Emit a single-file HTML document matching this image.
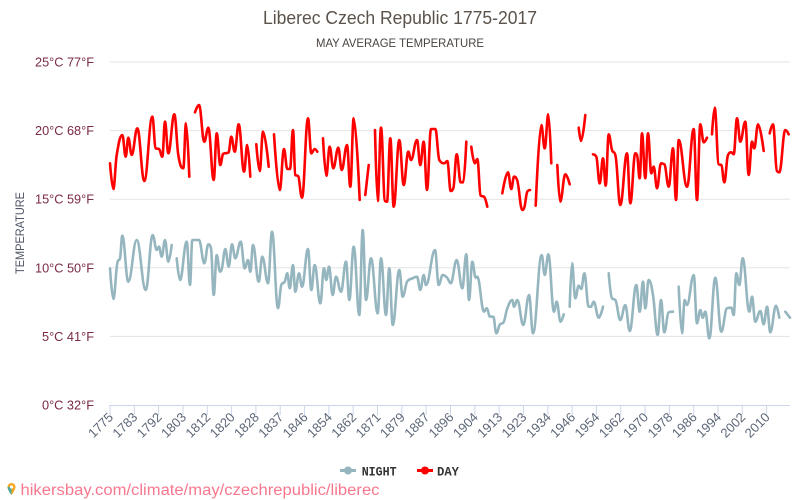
<!DOCTYPE html>
<html><head><meta charset="utf-8"><style>
html,body{margin:0;padding:0;background:#fff;}
svg{display:block;font-family:"Liberation Sans",sans-serif;}
</style></head><body>
<svg id="chart" width="800" height="500" viewBox="0 0 800 500" xmlns="http://www.w3.org/2000/svg">
<rect width="800" height="500" fill="#fff"/>
<text x="400" y="24" text-anchor="middle" font-size="18" fill="#5b534b" textLength="274" lengthAdjust="spacingAndGlyphs">Liberec Czech Republic 1775-2017</text>
<text x="400" y="47" text-anchor="middle" font-size="12" fill="#4a4440" textLength="168" lengthAdjust="spacingAndGlyphs">MAY AVERAGE TEMPERATURE</text>
<g stroke="#e3e3e3" stroke-width="1">
<line x1="110" y1="62" x2="790" y2="62"/>
<line x1="110" y1="130.6" x2="790" y2="130.6"/>
<line x1="110" y1="199.2" x2="790" y2="199.2"/>
<line x1="110" y1="267.8" x2="790" y2="267.8"/>
<line x1="110" y1="336.4" x2="790" y2="336.4"/>
</g>
<line x1="109" y1="405.5" x2="790" y2="405.5" stroke="#ccd6eb" stroke-width="1"/>
<g font-size="13" fill="#7a2a43" text-anchor="end">
<text x="94" y="66.5" textLength="59" lengthAdjust="spacingAndGlyphs">25°C 77°F</text>
<text x="94" y="135" textLength="59" lengthAdjust="spacingAndGlyphs">20°C 68°F</text>
<text x="94" y="203.7" textLength="59" lengthAdjust="spacingAndGlyphs">15°C 59°F</text>
<text x="94" y="272.3" textLength="59" lengthAdjust="spacingAndGlyphs">10°C 50°F</text>
<text x="94" y="340.9" textLength="52" lengthAdjust="spacingAndGlyphs">5°C 41°F</text>
<text x="94" y="409.5" textLength="52" lengthAdjust="spacingAndGlyphs">0°C 32°F</text>
</g>
<text transform="translate(24,233) rotate(-90)" text-anchor="middle" font-size="11.5" fill="#4e5666" textLength="82" lengthAdjust="spacingAndGlyphs">TEMPERATURE</text>
<g stroke="#ccd6eb" stroke-width="1">
<line x1="110" y1="405" x2="110" y2="415"/><line x1="134.3" y1="405" x2="134.3" y2="415"/><line x1="158.6" y1="405" x2="158.6" y2="415"/><line x1="183" y1="405" x2="183" y2="415"/><line x1="207.3" y1="405" x2="207.3" y2="415"/><line x1="231.6" y1="405" x2="231.6" y2="415"/><line x1="255.9" y1="405" x2="255.9" y2="415"/><line x1="280.2" y1="405" x2="280.2" y2="415"/><line x1="304.6" y1="405" x2="304.6" y2="415"/><line x1="328.9" y1="405" x2="328.9" y2="415"/><line x1="353.2" y1="405" x2="353.2" y2="415"/><line x1="377.5" y1="405" x2="377.5" y2="415"/><line x1="401.8" y1="405" x2="401.8" y2="415"/><line x1="426.2" y1="405" x2="426.2" y2="415"/><line x1="450.5" y1="405" x2="450.5" y2="415"/><line x1="474.8" y1="405" x2="474.8" y2="415"/><line x1="499.1" y1="405" x2="499.1" y2="415"/><line x1="523.4" y1="405" x2="523.4" y2="415"/><line x1="547.8" y1="405" x2="547.8" y2="415"/><line x1="572.1" y1="405" x2="572.1" y2="415"/><line x1="596.4" y1="405" x2="596.4" y2="415"/><line x1="620.7" y1="405" x2="620.7" y2="415"/><line x1="645" y1="405" x2="645" y2="415"/><line x1="669.4" y1="405" x2="669.4" y2="415"/><line x1="693.7" y1="405" x2="693.7" y2="415"/><line x1="718" y1="405" x2="718" y2="415"/><line x1="742.3" y1="405" x2="742.3" y2="415"/><line x1="766.6" y1="405" x2="766.6" y2="415"/>
</g>
<g font-size="13" fill="#5c6677" text-anchor="end">
<text transform="translate(114,418) rotate(-45)">1775</text>
<text transform="translate(138.3,418) rotate(-45)">1783</text>
<text transform="translate(162.6,418) rotate(-45)">1792</text>
<text transform="translate(187,418) rotate(-45)">1803</text>
<text transform="translate(211.3,418) rotate(-45)">1812</text>
<text transform="translate(235.6,418) rotate(-45)">1820</text>
<text transform="translate(259.9,418) rotate(-45)">1828</text>
<text transform="translate(284.2,418) rotate(-45)">1837</text>
<text transform="translate(308.6,418) rotate(-45)">1846</text>
<text transform="translate(332.9,418) rotate(-45)">1854</text>
<text transform="translate(357.2,418) rotate(-45)">1862</text>
<text transform="translate(381.5,418) rotate(-45)">1871</text>
<text transform="translate(405.8,418) rotate(-45)">1879</text>
<text transform="translate(430.2,418) rotate(-45)">1887</text>
<text transform="translate(454.5,418) rotate(-45)">1896</text>
<text transform="translate(478.8,418) rotate(-45)">1904</text>
<text transform="translate(503.1,418) rotate(-45)">1913</text>
<text transform="translate(527.4,418) rotate(-45)">1923</text>
<text transform="translate(551.8,418) rotate(-45)">1934</text>
<text transform="translate(576.1,418) rotate(-45)">1946</text>
<text transform="translate(600.4,418) rotate(-45)">1954</text>
<text transform="translate(624.7,418) rotate(-45)">1962</text>
<text transform="translate(649,418) rotate(-45)">1970</text>
<text transform="translate(673.4,418) rotate(-45)">1978</text>
<text transform="translate(697.7,418) rotate(-45)">1986</text>
<text transform="translate(722,418) rotate(-45)">1994</text>
<text transform="translate(746.3,418) rotate(-45)">2002</text>
<text transform="translate(770.6,418) rotate(-45)">2010</text>
</g>
<g class="series" fill="none" stroke="#96b6bf" stroke-width="2.6" stroke-linejoin="round" stroke-linecap="round">
<polyline points="110,268.3 113.3,299 117.7,261.7 120,258.3 122.3,235.7 128.3,281.7 136.7,240 145.7,290 152.7,235 156.7,250 159,246.7 161.7,256.7 165,240 168.3,261.7 171.7,245"/>
<polyline points="176.7,258.3 180,280 186.7,241.7 190,285 192.3,240 199,240 204.3,263.3 208.3,244.3 211,248.3 213.7,295 216.7,255 220,271.7 222,268 225.3,249 228.7,266.7 232,244.3 235.3,258.3 240.7,241.7 244.7,268.3 248,260 250.3,271.7 253,245 258.7,281.7 262.3,256.7 268,283.3 272,231.7 278,308.3 281.3,285 284.7,281.7 287.3,273.3 289.7,288.3 293,265 295.3,291.7 299,273.3 302,286.7 308,249 311.3,290 314.7,265 320.3,303.3 324,268.3 326.3,280 329,266.7 332.7,295 336,276.7 341,291.7 346,261.7 349.3,300 353.7,246.7 359.3,315 362.7,230 366,300 371,258.3 377.7,313.3 381,258.3 386,315 389.3,268.3 392.7,325 399.3,270 402.7,296.7 407,281.7 412.7,278.3 417,276.7 420.3,290 423.7,275 426,285 435,250 438.7,285 442.7,275 447.3,278 450.7,283.3 456.7,260 462.3,288.3 466.3,254.3 469,300 472.3,261.7 475.7,277.7 477.3,276.7 484,311.7 486.7,308.3 490,316.7 493.3,316.7 496.3,333.3 500,324.3 503.3,322.7 507.3,308.3 512.3,300 514,306.7 517.3,300 523.3,325 529,295 533,333.3 541.7,255 544.7,275 548.3,254.3 554,311.7 556.7,301.7 560.5,321.7 563.7,314.3"/>
<polyline points="569.7,306.7 572,263.3 575.3,298.3 578.7,285.7 581.3,289 584.3,273.3 588.7,306.7 591,306.7 593.7,301.7 598.7,317.7 603,306.7"/>
<polyline points="608.7,273.3 612,298.3 615.3,300 620.3,320 625.3,305 629.7,331 636.3,285 639.7,311.7 643,281.7 645.3,308.3 648.7,280 653,295 657.7,335 661,300 664.3,332.3 668.7,312.3 673,311.7"/>
<polyline points="678.7,286.7 682,333.3 684.7,300 687,305 693.7,275 697,323.3 700.3,310 702.7,317.7 705.3,311.7 709.3,338.3 715.3,277.7 721.3,331.7 727,308.3 731.3,307.7 733.7,315 736.3,273.3 739.3,285 742.7,258.3 749.3,311.7 752,296.7 755.3,321.7 760.3,311 763.7,324.3 767,306.7 770.3,332.3 776,305.7 779.3,317.7"/>
<polyline points="785.3,311.7 790,317.7"/>
</g>
<g class="series" fill="none" stroke="#ff0000" stroke-width="2.6" stroke-linejoin="round" stroke-linecap="round">
<polyline points="110,163.3 113.3,189 116.7,155 122.3,135 125.7,156.7 128.3,137.7 131.7,155 137.3,128.3 144.3,181 152.3,116.7 155.7,148.3 159,149 162.3,156.7 165,121.7 168.3,153.3 174.3,114.3 178.3,155 183.3,168.3 186,123.3 189.3,176.7"/>
<polyline points="195,112.3 199,105 204.3,141.7 208.3,127.7 213.7,180 216.7,133.3 220.3,165 223,154 228.7,152.3 231.3,136.7 234.7,151.7 238.7,124.3 244,171.7 247.3,145 250.3,176.7"/>
<polyline points="256.3,144.3 259.7,171 263,131.7 268.7,166.7"/>
<polyline points="274,134.3 279.7,190 284,149 287.3,169 290,169 293,130 295.3,175 298,176 302,197.7 308,118.3 311.3,153.3 314.7,149 317.3,151.7"/>
<polyline points="323,138.3 326.3,175.7 329.7,146.7 333.3,168.3 338.3,147.7 341.7,170 347,145 350.3,186.7 353.7,118.3 359.7,200"/>
<polyline points="365.3,195 368.7,165"/>
<polyline points="375,130 377.7,201 381,127.7 385,201 387,201.7 390.3,138.3 393.7,206.7 399.3,140 403.7,185 408.3,151.7 411,160 417,140 420.3,165 423.7,141.7 427,190 431,129 435.3,129 439.3,160 444.3,163.3 447.3,161 450.7,191 453.3,188.3 456.7,154.3 460.7,182.3 463.3,182.3 466.3,141.7"/>
<polyline points="471.3,146.7 474.7,163.3 477.3,159 480.7,195.7 484,196.7 487.3,206.7"/>
<polyline points="502.3,193.3 508,172.3 511.3,189 514,176.7 516.7,179 522.3,210 524,208.3 527.3,191.7 530,190"/>
<polyline points="535.7,205.7 541.3,125 544.7,148.3 548.3,114.3 551.3,163.3"/>
<polyline points="557.3,165 560.2,201.7 565.3,174.3 569.7,184.3"/>
<polyline points="578.7,127.7 581,141 585.3,115"/>
<polyline points="593,154.3 596.3,156.7 599.7,183.3 603,158.3 605.7,185.7 608.7,134.3 612,150 615.3,155 620.3,205 627,153.3 630.3,203.3 635.3,153.3 637,155 639.7,178.3 642,133.3 645.3,178.3 648,133.3 651.3,173.3 653.7,166.7 657,188.3 661,163.3 664.3,164.3 668.7,186.7 673,148.3 676,200 678.7,140 687,186.7 693.7,129 697,200 700.3,124.3 703.7,142.3 707,137.7"/>
<polyline points="712,134.3 714.7,107.7 718.7,164.3 721.3,165 724.3,182.3 728,155 731.3,152.3 733.7,154.3 737,118.3 740.3,141.7 745.3,121.7 748.7,175 752,141.7 754.3,148.3 758,124.3 763.7,151"/>
<polyline points="769.7,133.3 773,124.3 777,171 779.3,172.3 785.3,130 788.7,134.3"/>
</g>
<line x1="340" y1="470.5" x2="356" y2="470.5" stroke="#96b6bf" stroke-width="3"/>
<circle cx="348" cy="470.5" r="4" fill="#96b6bf"/>
<text x="361.7" y="475.5" font-family="Liberation Mono, monospace" font-weight="bold" font-size="12.5" fill="#333" textLength="35" lengthAdjust="spacingAndGlyphs">NIGHT</text>
<line x1="417" y1="470.5" x2="433" y2="470.5" stroke="#ff0000" stroke-width="3"/>
<circle cx="425" cy="470.5" r="4" fill="#ff0000"/>
<text x="437" y="475.5" font-family="Liberation Mono, monospace" font-weight="bold" font-size="12.5" fill="#333" textLength="22" lengthAdjust="spacingAndGlyphs">DAY</text>
<path d="M11.5,483 a4,4 0 0 1 4,4 c0,3 -4,8 -4,8 c0,0 -4,-5 -4,-8 a4,4 0 0 1 4,-4z" fill="#f5a623"/>
<path d="M11.5,495 c0,0 -4,-5 -4,-8 l4,0z" fill="#4aa8a0"/>
<circle cx="11.5" cy="487" r="1.6" fill="#fff"/>
<text x="20.5" y="495" font-size="15.5" fill="#f7788e" textLength="359" lengthAdjust="spacingAndGlyphs">hikersbay.com/climate/may/czechrepublic/liberec</text>
</svg>
<script>
(function(){
  var NS="http://www.w3.org/2000/svg";
  var polys=document.querySelectorAll("g.series polyline");
  for(var k=0;k<polys.length;k++){
    var pl=polys[k];
    var raw=pl.getAttribute("points").trim().split(/\s+/);
    var p=raw.map(function(s){var a=s.split(",");return [parseFloat(a[0]),parseFloat(a[1])];});
    if(p.length<3) continue;
    var n=p.length, sm=1.5, den=sm+1;
    var L=[],R=[];
    for(var i=0;i<n;i++){
      var x=p[i][0],y=p[i][1];
      if(i===0||i===n-1){L[i]=[x,y];R[i]=[x,y];continue;}
      var lx=p[i-1][0],ly=p[i-1][1],nx=p[i+1][0],ny=p[i+1][1];
      var lcx=(sm*x+lx)/den,lcy=(sm*y+ly)/den,rcx=(sm*x+nx)/den,rcy=(sm*y+ny)/den;
      if(rcx!==lcx){
        var c=((rcy-lcy)*(rcx-x))/(rcx-lcx)+y-rcy;
        lcy+=c;rcy+=c;
        if(lcy>ly&&lcy>y){lcy=Math.max(ly,y);rcy=2*y-lcy;}
        else if(lcy<ly&&lcy<y){lcy=Math.min(ly,y);rcy=2*y-lcy;}
        if(rcy>ny&&rcy>y){rcy=Math.max(ny,y);lcy=2*y-rcy;}
        else if(rcy<ny&&rcy<y){rcy=Math.min(ny,y);lcy=2*y-rcy;}
      }
      L[i]=[lcx,lcy];R[i]=[rcx,rcy];
    }
    var d="M"+p[0][0]+","+p[0][1];
    for(var j=1;j<n;j++){
      d+=" C"+R[j-1][0].toFixed(2)+","+R[j-1][1].toFixed(2)+" "+L[j][0].toFixed(2)+","+L[j][1].toFixed(2)+" "+p[j][0]+","+p[j][1];
    }
    var path=document.createElementNS(NS,"path");
    path.setAttribute("d",d);
    pl.parentNode.replaceChild(path,pl);
  }
})();
</script>
</body></html>
